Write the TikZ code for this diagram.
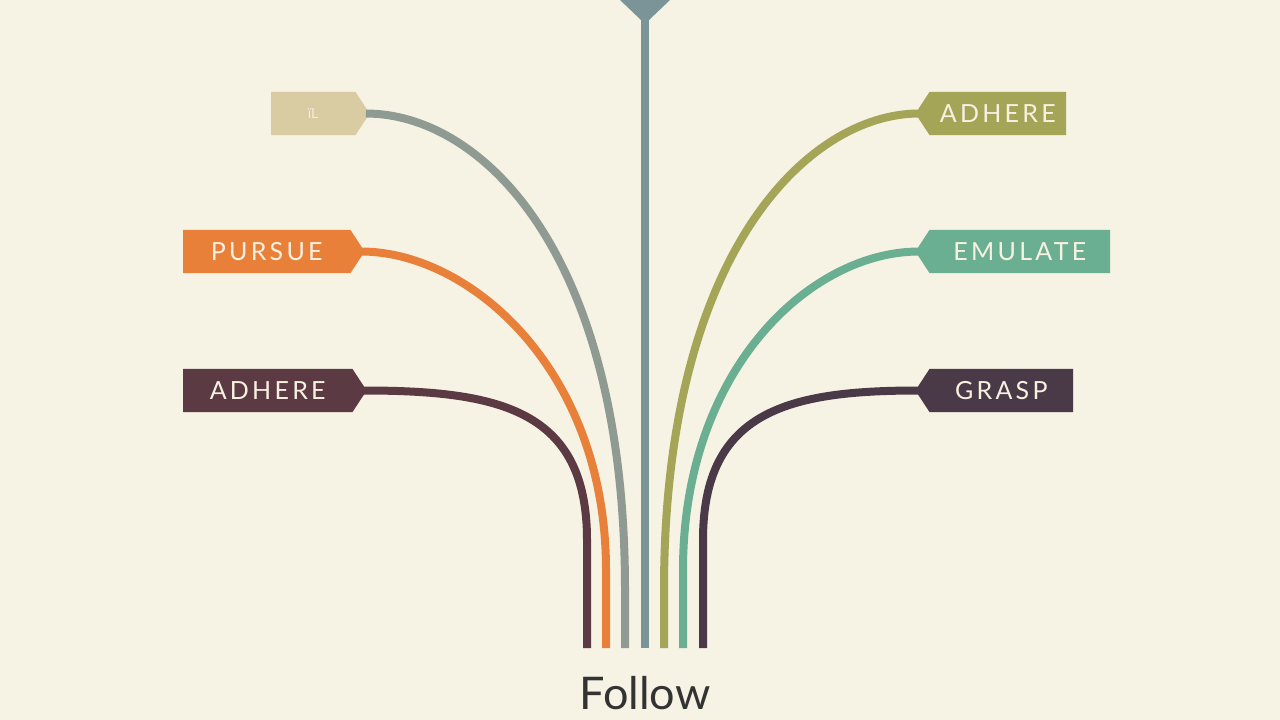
\documentclass[tikz,border=0pt]{standalone}
\usepackage{fontspec}
\setmainfont{Lato}
\usetikzlibrary{backgrounds}
\definecolor{bg}{HTML}{F6F2E4}
\definecolor{cbeige}{HTML}{D9CCA2}
\definecolor{cgray}{HTML}{8F9B92}
\definecolor{corange}{HTML}{E8803A}
\definecolor{cmaroon}{HTML}{5C3A44}
\definecolor{colive}{HTML}{A4A556}
\definecolor{cteal}{HTML}{6AAF92}
\definecolor{cdark}{HTML}{4A3A47}
\definecolor{ccenter}{HTML}{7B9497}
\definecolor{ctext}{HTML}{F8F1E2}
\begin{document}
\begin{tikzpicture}[x=1pt,y=-1pt,
  tagbox/.style={rectangle, inner sep=0pt, minimum height=43pt, text=ctext,
     font=\fontsize{25}{25}\selectfont\addfontfeatures{LetterSpace=13}},
  wire/.style={line width=8pt, line cap=butt}]
\begin{scope}[on background layer]
\fill[bg] (0,0) rectangle (1280,720);
\end{scope}
\useasboundingbox (0,0) rectangle (1280,720);

% tags
\node[tagbox, minimum width=84pt, anchor=west, text=cbeige!35!white,
      font=\fontsize{14}{14}\selectfont] (t1) at (271,113.5) {ïL};
\node[tagbox, minimum width=167pt, anchor=west] (t2) at (183,251.5) {PURSUE};
\node[tagbox, minimum width=169pt, anchor=west] (t3) at (183,390.5) {ADHERE};
\node[tagbox, minimum width=136pt, anchor=east] (t4) at (1066,113.5) {ADHERE};
\node[tagbox, minimum width=180pt, anchor=east] (t5) at (1110,251.5) {EMULATE};
\node[tagbox, minimum width=143pt, anchor=east] (t6) at (1073,390.5) {GRASP};

% tips
\coordinate (p1) at (367,113.5);
\coordinate (p2) at (362,251.5);
\coordinate (p3) at (364,390.5);
\coordinate (p4) at (918,113.5);
\coordinate (p5) at (918,251.5);
\coordinate (p6) at (918,390.5);

% bottom ends
\coordinate (b1) at (625,648);
\coordinate (b2) at (606,648);
\coordinate (b3) at (587,648);
\coordinate (b4) at (664,648);
\coordinate (b5) at (683,648);
\coordinate (b6) at (703,648);
\coordinate (bc) at (645,648);
\coordinate (tc) at (645,16);

\begin{scope}[on background layer]
\fill[cbeige] (t1.north west) -- (t1.north east) -- ([yshift=4pt]p1) -- ([yshift=-4pt]p1) -- (t1.south east) -- (t1.south west) -- cycle;
\fill[corange] (t2.north west) -- (t2.north east) -- ([yshift=4pt]p2) -- ([yshift=-4pt]p2) -- (t2.south east) -- (t2.south west) -- cycle;
\fill[cmaroon] (t3.north west) -- (t3.north east) -- ([yshift=4pt]p3) -- ([yshift=-4pt]p3) -- (t3.south east) -- (t3.south west) -- cycle;
\fill[colive] (t4.north east) -- (t4.north west) -- ([yshift=4pt]p4) -- ([yshift=-4pt]p4) -- (t4.south west) -- (t4.south east) -- cycle;
\fill[cteal] (t5.north east) -- (t5.north west) -- ([yshift=4pt]p5) -- ([yshift=-4pt]p5) -- (t5.south west) -- (t5.south east) -- cycle;
\fill[cdark] (t6.north east) -- (t6.north west) -- ([yshift=4pt]p6) -- ([yshift=-4pt]p6) -- (t6.south west) -- (t6.south east) -- cycle;
\end{scope}

% wires
\draw[wire, cgray] ([xshift=-1pt]p1) .. controls (480,113.5) and (625,250) .. (625,590) -- (b1);
\draw[wire, corange] ([xshift=-1pt]p2) .. controls (470,251.5) and (606,370) .. (606,570) -- (b2);
\draw[wire, cmaroon] ([xshift=-1pt]p3) .. controls (500,390.5) and (587,410) .. (587,540) -- (b3);
\draw[wire, colive] ([xshift=1pt]p4) .. controls (810,113.5) and (664,250) .. (664,590) -- (b4);
\draw[wire, cteal] ([xshift=1pt]p5) .. controls (810,251.5) and (683,370) .. (683,570) -- (b5);
\draw[wire, cdark] ([xshift=1pt]p6) .. controls (790,390.5) and (703,410) .. (703,540) -- (b6);

% central stem
\draw[line width=8pt, ccenter] (tc) -- (bc);
\fill[ccenter] (620,0) -- (670,0) -- (649,20) -- (641,20) -- cycle;

\node[font=\fontsize{45}{45}\selectfont, text=black!80, anchor=base] (follow) at (645,709) {Follow};
\end{tikzpicture}
\end{document}
